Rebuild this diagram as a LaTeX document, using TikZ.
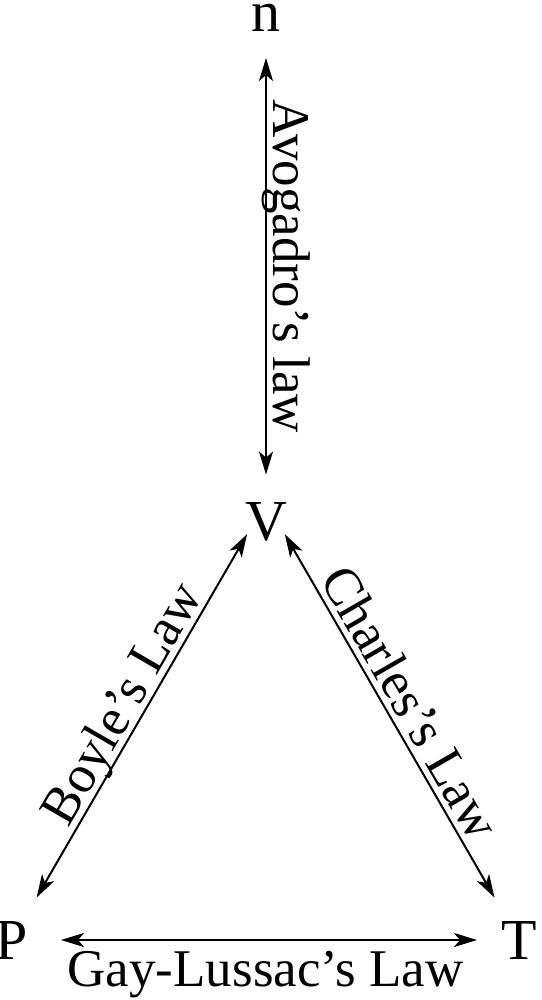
\documentclass[tikz,border=0pt]{standalone}
\usepackage{fontspec}
\setmainfont{Liberation Serif}
\usetikzlibrary{arrows.meta}
\tikzset{>/.tip={Stealth[length=11.5pt,width=7pt,inset=3pt]},
  gasvar/.style={circle,inner sep=0pt,minimum size=48pt,font=\fontsize{29}{34}\selectfont},
  lawname/.style={inner sep=0pt,text depth=0pt,font=\fontsize{26.5}{31}\selectfont}}

\begin{document}
\begin{tikzpicture}[x=0.5pt,y=-0.5pt,line width=1pt]
\useasboundingbox (0,0) rectangle (541,1000);
\node[gasvar,minimum size=39pt] (n) at (266,18) {n};
\node[inner sep=0pt,font=\fontsize{29}{34}\selectfont] (V) at (266,522) {V};
\node[gasvar] (P) at (12,940) {P};
\node[gasvar] (T) at (519,940) {T};

\path[<->] (n) edge[shorten >=13.5pt] node[lawname,sloped,above=3.25pt,pos=0.47]
     {Avogadro’s law} (V.north);
\path[<->] (P) edge[shorten >=18.8pt] node[lawname,sloped,above=3pt,pos=0.46]
     {Boyle’s Law} (V.north);
\path[<->] (V.north) edge[shorten <=18.8pt] node[lawname,sloped,above=3pt,pos=0.54]
     {Charles’s Law} (T);
\path[<->] (P) edge[shorten >=-3.5pt] node[lawname,below=5pt]
     {Gay-Lussac’s Law} (T);
\end{tikzpicture}
\end{document}
